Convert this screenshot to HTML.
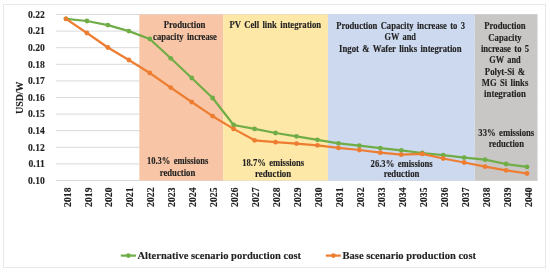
<!DOCTYPE html>
<html><head><meta charset="utf-8"><style>
html,body{margin:0;padding:0;background:#fff;}
body{width:550px;height:272px;overflow:hidden;}
svg{display:block;will-change:transform;}
text{font-family:"Liberation Serif",serif;font-weight:bold;fill:#222222;stroke:#222222;stroke-width:0.12px;}
</style></head><body>
<svg width="550" height="272" viewBox="0 0 550 272">
<rect x="0" y="0" width="550" height="272" fill="#ffffff"/>
<rect x="3.5" y="4.5" width="542" height="263" fill="#ffffff" stroke="#e8e8e8" stroke-width="1"/>

<line x1="56" y1="14.50" x2="537.5" y2="14.50" stroke="#d9d9d9" stroke-width="1"/>
<line x1="56" y1="31.10" x2="537.5" y2="31.10" stroke="#d9d9d9" stroke-width="1"/>
<line x1="56" y1="47.70" x2="537.5" y2="47.70" stroke="#d9d9d9" stroke-width="1"/>
<line x1="56" y1="64.30" x2="537.5" y2="64.30" stroke="#d9d9d9" stroke-width="1"/>
<line x1="56" y1="80.90" x2="537.5" y2="80.90" stroke="#d9d9d9" stroke-width="1"/>
<line x1="56" y1="97.50" x2="537.5" y2="97.50" stroke="#d9d9d9" stroke-width="1"/>
<line x1="56" y1="114.10" x2="537.5" y2="114.10" stroke="#d9d9d9" stroke-width="1"/>
<line x1="56" y1="130.70" x2="537.5" y2="130.70" stroke="#d9d9d9" stroke-width="1"/>
<line x1="56" y1="147.30" x2="537.5" y2="147.30" stroke="#d9d9d9" stroke-width="1"/>
<line x1="56" y1="163.90" x2="537.5" y2="163.90" stroke="#d9d9d9" stroke-width="1"/>
<line x1="56" y1="180.50" x2="537.5" y2="180.50" stroke="#d9d9d9" stroke-width="1"/>
<rect x="139.33" y="14.50" width="83.83" height="166.00" fill="#f8c6a6"/>
<rect x="223.15" y="14.50" width="104.78" height="166.00" fill="#fee8a8"/>
<rect x="327.93" y="14.50" width="146.70" height="166.00" fill="#cdd9ef"/>
<rect x="474.63" y="14.50" width="62.87" height="166.00" fill="#c9c7c6"/>
<text x="44.8" y="17.70" font-size="9.6" text-anchor="end">0.22</text>
<text x="44.8" y="34.30" font-size="9.6" text-anchor="end">0.21</text>
<text x="44.8" y="50.90" font-size="9.6" text-anchor="end">0.20</text>
<text x="44.8" y="67.50" font-size="9.6" text-anchor="end">0.18</text>
<text x="44.8" y="84.10" font-size="9.6" text-anchor="end">0.17</text>
<text x="44.8" y="100.70" font-size="9.6" text-anchor="end">0.16</text>
<text x="44.8" y="117.30" font-size="9.6" text-anchor="end">0.15</text>
<text x="44.8" y="133.90" font-size="9.6" text-anchor="end">0.14</text>
<text x="44.8" y="150.50" font-size="9.6" text-anchor="end">0.12</text>
<text x="44.8" y="167.10" font-size="9.6" text-anchor="end">0.11</text>
<text x="44.8" y="183.70" font-size="9.6" text-anchor="end">0.10</text>
<text transform="translate(23.3,97.8) rotate(-90)" font-size="9.9" text-anchor="middle">USD/W</text>
<text transform="translate(70.58,187.5) rotate(-90)" font-size="9.7" text-anchor="end">2018</text>
<text transform="translate(91.53,187.5) rotate(-90)" font-size="9.7" text-anchor="end">2019</text>
<text transform="translate(112.49,187.5) rotate(-90)" font-size="9.7" text-anchor="end">2020</text>
<text transform="translate(133.45,187.5) rotate(-90)" font-size="9.7" text-anchor="end">2021</text>
<text transform="translate(154.40,187.5) rotate(-90)" font-size="9.7" text-anchor="end">2022</text>
<text transform="translate(175.36,187.5) rotate(-90)" font-size="9.7" text-anchor="end">2023</text>
<text transform="translate(196.32,187.5) rotate(-90)" font-size="9.7" text-anchor="end">2024</text>
<text transform="translate(217.27,187.5) rotate(-90)" font-size="9.7" text-anchor="end">2025</text>
<text transform="translate(238.23,187.5) rotate(-90)" font-size="9.7" text-anchor="end">2026</text>
<text transform="translate(259.19,187.5) rotate(-90)" font-size="9.7" text-anchor="end">2027</text>
<text transform="translate(280.14,187.5) rotate(-90)" font-size="9.7" text-anchor="end">2028</text>
<text transform="translate(301.10,187.5) rotate(-90)" font-size="9.7" text-anchor="end">2029</text>
<text transform="translate(322.06,187.5) rotate(-90)" font-size="9.7" text-anchor="end">2030</text>
<text transform="translate(343.01,187.5) rotate(-90)" font-size="9.7" text-anchor="end">2031</text>
<text transform="translate(363.97,187.5) rotate(-90)" font-size="9.7" text-anchor="end">2032</text>
<text transform="translate(384.93,187.5) rotate(-90)" font-size="9.7" text-anchor="end">2033</text>
<text transform="translate(405.88,187.5) rotate(-90)" font-size="9.7" text-anchor="end">2034</text>
<text transform="translate(426.84,187.5) rotate(-90)" font-size="9.7" text-anchor="end">2035</text>
<text transform="translate(447.80,187.5) rotate(-90)" font-size="9.7" text-anchor="end">2036</text>
<text transform="translate(468.75,187.5) rotate(-90)" font-size="9.7" text-anchor="end">2037</text>
<text transform="translate(489.71,187.5) rotate(-90)" font-size="9.7" text-anchor="end">2038</text>
<text transform="translate(510.67,187.5) rotate(-90)" font-size="9.7" text-anchor="end">2039</text>
<text transform="translate(531.62,187.5) rotate(-90)" font-size="9.7" text-anchor="end">2040</text>
<text x="184.60" y="28.20" font-size="9.5" text-anchor="middle" word-spacing="1.3" textLength="41.7" lengthAdjust="spacingAndGlyphs" xml:space="preserve">Production</text>
<text x="185.00" y="39.50" font-size="9.5" text-anchor="middle" word-spacing="1.3" textLength="63.8" lengthAdjust="spacingAndGlyphs" xml:space="preserve">capacity increase</text>
<text x="275.30" y="27.80" font-size="9.5" text-anchor="middle" word-spacing="1.3" textLength="91.7" lengthAdjust="spacingAndGlyphs" xml:space="preserve">PV Cell link integration</text>
<text x="400.70" y="28.70" font-size="9.5" text-anchor="middle" word-spacing="1.3" textLength="128.7" lengthAdjust="spacingAndGlyphs" xml:space="preserve">Production Capacity increase to 3</text>
<text x="400.30" y="40.40" font-size="9.5" text-anchor="middle" word-spacing="1.3" textLength="31.4" lengthAdjust="spacingAndGlyphs" xml:space="preserve">GW and</text>
<text x="400.30" y="51.90" font-size="9.5" text-anchor="middle" word-spacing="1.3" textLength="122.4" lengthAdjust="spacingAndGlyphs" xml:space="preserve">Ingot &amp; Wafer links integration</text>
<text x="505.00" y="28.80" font-size="9.5" text-anchor="middle" word-spacing="1.3" textLength="41.4" lengthAdjust="spacingAndGlyphs" xml:space="preserve">Production</text>
<text x="505.00" y="40.60" font-size="9.5" text-anchor="middle" word-spacing="1.3" textLength="33.3" lengthAdjust="spacingAndGlyphs" xml:space="preserve">Capacity</text>
<text x="505.00" y="52.00" font-size="9.5" text-anchor="middle" word-spacing="1.3" textLength="48.2" lengthAdjust="spacingAndGlyphs" xml:space="preserve">increase to 5</text>
<text x="505.00" y="63.00" font-size="9.5" text-anchor="middle" word-spacing="1.3" textLength="31.4" lengthAdjust="spacingAndGlyphs" xml:space="preserve">GW and</text>
<text x="505.00" y="74.50" font-size="9.5" text-anchor="middle" word-spacing="1.3" textLength="40.3" lengthAdjust="spacingAndGlyphs" xml:space="preserve">Polyt-Si &amp;</text>
<text x="505.00" y="86.30" font-size="9.5" text-anchor="middle" word-spacing="1.3" textLength="46.5" lengthAdjust="spacingAndGlyphs" xml:space="preserve">MG Si links</text>
<text x="505.00" y="97.30" font-size="9.5" text-anchor="middle" word-spacing="1.3" textLength="41.8" lengthAdjust="spacingAndGlyphs" xml:space="preserve">integration</text>
<text x="177.60" y="163.50" font-size="9.5" text-anchor="middle" word-spacing="1.3" textLength="61.3" lengthAdjust="spacingAndGlyphs" xml:space="preserve">10.3% emissions</text>
<text x="177.50" y="175.60" font-size="9.5" text-anchor="middle" word-spacing="1.3" textLength="35.5" lengthAdjust="spacingAndGlyphs" xml:space="preserve">reduction</text>
<text x="273.20" y="166.10" font-size="9.5" text-anchor="middle" word-spacing="1.3" textLength="61.9" lengthAdjust="spacingAndGlyphs" xml:space="preserve">18.7% emissions</text>
<text x="273.10" y="177.30" font-size="9.5" text-anchor="middle" word-spacing="1.3" textLength="36.2" lengthAdjust="spacingAndGlyphs" xml:space="preserve">reduction</text>
<text x="401.60" y="167.00" font-size="9.5" text-anchor="middle" word-spacing="1.3" textLength="62.0" lengthAdjust="spacingAndGlyphs" xml:space="preserve">26.3% emissions</text>
<text x="401.60" y="177.40" font-size="9.5" text-anchor="middle" word-spacing="1.3" textLength="35.8" lengthAdjust="spacingAndGlyphs" xml:space="preserve">reduction</text>
<text x="506.30" y="135.90" font-size="9.5" text-anchor="middle" word-spacing="1.3" textLength="55.9" lengthAdjust="spacingAndGlyphs" xml:space="preserve">33% emissions</text>
<text x="506.30" y="147.30" font-size="9.5" text-anchor="middle" word-spacing="1.3" textLength="35.3" lengthAdjust="spacingAndGlyphs" xml:space="preserve">reduction</text>
<polyline points="65.98,18.80 86.93,21.00 107.89,25.10 128.85,31.10 149.80,39.00 170.76,58.30 191.72,78.00 212.67,98.00 233.63,125.00 254.59,128.90 275.54,133.00 296.50,136.30 317.46,139.80 338.41,143.30 359.37,145.70 380.33,148.10 401.28,150.30 422.24,153.00 443.20,155.20 464.15,157.60 485.11,159.70 506.07,164.00 527.02,166.90" fill="none" stroke="#70ad47" stroke-width="2.2" stroke-linejoin="round"/>
<circle cx="65.98" cy="18.80" r="2.4" fill="#70ad47"/>
<circle cx="86.93" cy="21.00" r="2.4" fill="#70ad47"/>
<circle cx="107.89" cy="25.10" r="2.4" fill="#70ad47"/>
<circle cx="128.85" cy="31.10" r="2.4" fill="#70ad47"/>
<circle cx="149.80" cy="39.00" r="2.4" fill="#70ad47"/>
<circle cx="170.76" cy="58.30" r="2.4" fill="#70ad47"/>
<circle cx="191.72" cy="78.00" r="2.4" fill="#70ad47"/>
<circle cx="212.67" cy="98.00" r="2.4" fill="#70ad47"/>
<circle cx="233.63" cy="125.00" r="2.4" fill="#70ad47"/>
<circle cx="254.59" cy="128.90" r="2.4" fill="#70ad47"/>
<circle cx="275.54" cy="133.00" r="2.4" fill="#70ad47"/>
<circle cx="296.50" cy="136.30" r="2.4" fill="#70ad47"/>
<circle cx="317.46" cy="139.80" r="2.4" fill="#70ad47"/>
<circle cx="338.41" cy="143.30" r="2.4" fill="#70ad47"/>
<circle cx="359.37" cy="145.70" r="2.4" fill="#70ad47"/>
<circle cx="380.33" cy="148.10" r="2.4" fill="#70ad47"/>
<circle cx="401.28" cy="150.30" r="2.4" fill="#70ad47"/>
<circle cx="422.24" cy="153.00" r="2.4" fill="#70ad47"/>
<circle cx="443.20" cy="155.20" r="2.4" fill="#70ad47"/>
<circle cx="464.15" cy="157.60" r="2.4" fill="#70ad47"/>
<circle cx="485.11" cy="159.70" r="2.4" fill="#70ad47"/>
<circle cx="506.07" cy="164.00" r="2.4" fill="#70ad47"/>
<circle cx="527.02" cy="166.90" r="2.4" fill="#70ad47"/>
<polyline points="65.98,18.80 86.93,33.00 107.89,47.50 128.85,60.00 149.80,73.00 170.76,87.60 191.72,102.00 212.67,116.20 233.63,128.90 254.59,140.30 275.54,142.20 296.50,143.60 317.46,145.30 338.41,147.90 359.37,150.00 380.33,152.70 401.28,154.70 422.24,153.90 443.20,158.50 464.15,162.50 485.11,166.70 506.07,170.30 527.02,173.50" fill="none" stroke="#ed7d31" stroke-width="2.2" stroke-linejoin="round"/>
<circle cx="65.98" cy="18.80" r="2.4" fill="#ed7d31"/>
<circle cx="86.93" cy="33.00" r="2.4" fill="#ed7d31"/>
<circle cx="107.89" cy="47.50" r="2.4" fill="#ed7d31"/>
<circle cx="128.85" cy="60.00" r="2.4" fill="#ed7d31"/>
<circle cx="149.80" cy="73.00" r="2.4" fill="#ed7d31"/>
<circle cx="170.76" cy="87.60" r="2.4" fill="#ed7d31"/>
<circle cx="191.72" cy="102.00" r="2.4" fill="#ed7d31"/>
<circle cx="212.67" cy="116.20" r="2.4" fill="#ed7d31"/>
<circle cx="233.63" cy="128.90" r="2.4" fill="#ed7d31"/>
<circle cx="254.59" cy="140.30" r="2.4" fill="#ed7d31"/>
<circle cx="275.54" cy="142.20" r="2.4" fill="#ed7d31"/>
<circle cx="296.50" cy="143.60" r="2.4" fill="#ed7d31"/>
<circle cx="317.46" cy="145.30" r="2.4" fill="#ed7d31"/>
<circle cx="338.41" cy="147.90" r="2.4" fill="#ed7d31"/>
<circle cx="359.37" cy="150.00" r="2.4" fill="#ed7d31"/>
<circle cx="380.33" cy="152.70" r="2.4" fill="#ed7d31"/>
<circle cx="401.28" cy="154.70" r="2.4" fill="#ed7d31"/>
<circle cx="422.24" cy="153.90" r="2.4" fill="#ed7d31"/>
<circle cx="443.20" cy="158.50" r="2.4" fill="#ed7d31"/>
<circle cx="464.15" cy="162.50" r="2.4" fill="#ed7d31"/>
<circle cx="485.11" cy="166.70" r="2.4" fill="#ed7d31"/>
<circle cx="506.07" cy="170.30" r="2.4" fill="#ed7d31"/>
<circle cx="527.02" cy="173.50" r="2.4" fill="#ed7d31"/>
<line x1="120.8" y1="255.6" x2="136.1" y2="255.6" stroke="#70ad47" stroke-width="2.2"/>
<circle cx="128.4" cy="255.6" r="2.4" fill="#70ad47"/>
<text x="137.5" y="258.9" font-size="11" textLength="163.5" lengthAdjust="spacingAndGlyphs">Alternative scenario porduction cost</text>
<line x1="325.8" y1="255.6" x2="340.8" y2="255.6" stroke="#ed7d31" stroke-width="2.2"/>
<circle cx="333.4" cy="255.6" r="2.4" fill="#ed7d31"/>
<text x="342.5" y="258.9" font-size="11" textLength="133.5" lengthAdjust="spacingAndGlyphs">Base scenario production cost</text>
</svg></body></html>
